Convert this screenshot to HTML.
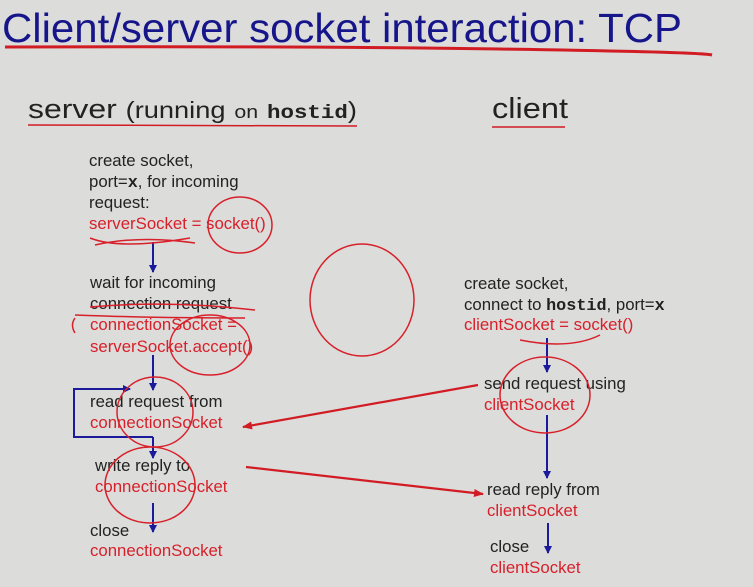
<!DOCTYPE html>
<html><head><meta charset="utf-8"><style>
html,body{margin:0;padding:0;background:#dcdcdb;}
svg{display:block}
text{font-family:"Liberation Sans",sans-serif;font-size:16.8px;}
.k{fill:#222}.r{fill:#d8202a}
</style></head><body>
<svg width="753" height="587" viewBox="0 0 753 587">
<rect width="753" height="587" fill="#dcdcdb"/>
<text x="2" y="42" style="font-size:41px" fill="#16168a" textLength="680" lengthAdjust="spacingAndGlyphs">Client/server socket interaction: TCP</text>
<path d="M5,47 Q300,46 500,49 T712,55" stroke="#d21c24" stroke-width="3" fill="none"/>
<text x="28" y="118" style="font-size:27px" fill="#222" textLength="329" lengthAdjust="spacingAndGlyphs">server <tspan style="font-size:23px">(running</tspan> <tspan style="font-size:18px">on</tspan> <tspan style="font-family:'Liberation Mono',monospace;font-size:19px;font-weight:bold">hostid</tspan><tspan style="font-size:23px">)</tspan></text>
<line x1="28" y1="125" x2="357" y2="126" stroke="#d21c24" stroke-width="1.5"/>
<text x="492" y="118" style="font-size:29px" fill="#222" textLength="76" lengthAdjust="spacingAndGlyphs">client</text>
<line x1="492" y1="127" x2="565" y2="127" stroke="#d21c24" stroke-width="1.5"/>

<text x="89" y="166" class="k">create socket,</text>
<text x="89" y="187" class="k">port=<tspan style="font-family:'Liberation Mono',monospace;font-weight:bold">x</tspan>, for incoming</text>
<text x="89" y="208" class="k">request:</text>
<text x="89" y="229" class="r">serverSocket = socket()</text>
<text x="90" y="288" class="k">wait for incoming</text>
<text x="90" y="309" class="k">connection request</text>
<text x="90" y="330" class="r">connectionSocket =</text>
<text x="90" y="352" class="r">serverSocket.accept()</text>
<text x="90" y="407" class="k">read request from</text>
<text x="90" y="428" class="r">connectionSocket</text>
<text x="95" y="471" class="k">write reply to</text>
<text x="95" y="492" class="r">connectionSocket</text>
<text x="90" y="536" class="k">close</text>
<text x="90" y="556" class="r">connectionSocket</text>

<text x="464" y="289" class="k">create socket,</text>
<text x="464" y="310" class="k">connect to <tspan style="font-family:'Liberation Mono',monospace;font-weight:bold">hostid</tspan>, port=<tspan style="font-family:'Liberation Mono',monospace;font-weight:bold">x</tspan></text>
<text x="464" y="330" class="r">clientSocket = socket()</text>
<text x="484" y="389" class="k">send request using</text>
<text x="484" y="410" class="r">clientSocket</text>
<text x="487" y="495" class="k">read reply from</text>
<text x="487" y="516" class="r">clientSocket</text>
<text x="490" y="552" class="k">close</text>
<text x="490" y="573" class="r">clientSocket</text>

<defs>
<marker id="b" markerWidth="8" markerHeight="8" refX="7" refY="4" orient="auto" markerUnits="userSpaceOnUse"><path d="M0,0 L8,4 L0,8z" fill="#1a1a9a"/></marker>
<marker id="rm" markerWidth="10" markerHeight="8" refX="9" refY="4" orient="auto" markerUnits="userSpaceOnUse"><path d="M0,0 L10,4 L0,8z" fill="#d21c24"/></marker>
</defs>
<g stroke="#1a1a9a" stroke-width="2" fill="none" marker-end="url(#b)">
<line x1="153" y1="242" x2="153" y2="272"/>
<line x1="153" y1="355" x2="153" y2="390"/>
<line x1="153" y1="437" x2="153" y2="458"/>
<line x1="153" y1="503" x2="153" y2="532"/>
<line x1="547" y1="338" x2="547" y2="372"/>
<line x1="547" y1="415" x2="547" y2="478"/>
<line x1="548" y1="523" x2="548" y2="553"/>
<path d="M153,437 L74,437 L74,389 L130,389"/>
</g>
<g stroke="#d21c24" stroke-width="2.2" fill="none" marker-end="url(#rm)">
<line x1="478" y1="385" x2="243" y2="427"/>
<line x1="246" y1="467" x2="483" y2="494"/>
</g>
<g stroke="#d8202a" stroke-width="1.5" fill="none">
<ellipse cx="240" cy="225" rx="32" ry="28"/>
<ellipse cx="362" cy="300" rx="52" ry="56"/>
<path d="M90,238 Q120,250 190,238 M95,245 Q140,235 195,243"/>
<path d="M90,307 Q170,300 255,310 M75,315 Q150,318 245,318 M75,318 Q70,325 75,333"/>
<ellipse cx="210" cy="345" rx="40" ry="30"/>
<ellipse cx="155" cy="412" rx="38" ry="35"/>
<ellipse cx="150" cy="485" rx="45" ry="38"/>
<ellipse cx="545" cy="395" rx="45" ry="38"/>
<path d="M520,340 Q570,350 600,335"/>
</g>
</svg>
</body></html>
